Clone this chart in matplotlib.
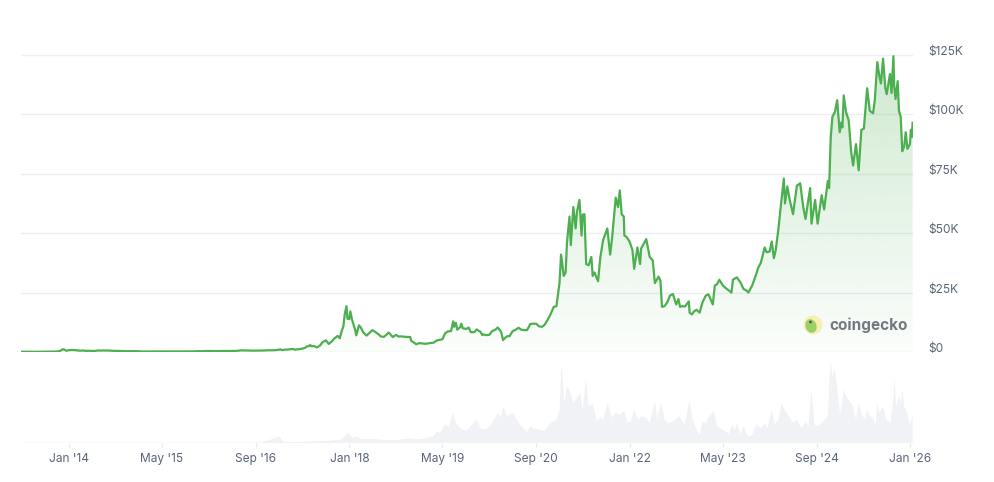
import numpy as np
import pandas as pd
import matplotlib
matplotlib.use("Agg")
import matplotlib.pyplot as plt
import matplotlib.dates as mdates
import matplotlib.transforms as mtransforms
from matplotlib.patches import Circle, Ellipse

# ---------------- data ----------------
price_dates = [
    "2013-04-28", "2013-05-15", "2013-06-01", "2013-06-15", "2013-07-01", "2013-07-15", "2013-08-01", "2013-08-15",
    "2013-09-01", "2013-09-15", "2013-10-01", "2013-10-15", "2013-11-01", "2013-11-15", "2013-11-30", "2013-12-05",
    "2013-12-18", "2013-12-31",
    "2014-01-15", "2014-02-01", "2014-02-15", "2014-03-01", "2014-03-15", "2014-04-01", "2014-04-15", "2014-05-01",
    "2014-05-15", "2014-06-01", "2014-06-15", "2014-07-01", "2014-07-15", "2014-08-01", "2014-08-15", "2014-09-01",
    "2014-09-15", "2014-10-01", "2014-10-15", "2014-11-01", "2014-11-15", "2014-12-01", "2014-12-15",
    "2015-01-01", "2015-01-15", "2015-02-01", "2015-02-15", "2015-03-01", "2015-03-15", "2015-04-01", "2015-04-15",
    "2015-05-01", "2015-05-15", "2015-06-01", "2015-06-15", "2015-07-01", "2015-07-15", "2015-08-01", "2015-08-15",
    "2015-09-01", "2015-09-15", "2015-10-01", "2015-10-15", "2015-11-01", "2015-11-05", "2015-11-15", "2015-12-01",
    "2015-12-15",
    "2016-01-01", "2016-01-15", "2016-02-01", "2016-02-15", "2016-03-01", "2016-03-15", "2016-04-01", "2016-04-15",
    "2016-05-01", "2016-05-15", "2016-06-01", "2016-06-15", "2016-07-01", "2016-07-15", "2016-08-01", "2016-08-15",
    "2016-09-01", "2016-09-15", "2016-10-01", "2016-10-15", "2016-11-01", "2016-11-15", "2016-12-01", "2016-12-15",
    "2017-01-01", "2017-01-05", "2017-01-15", "2017-02-01", "2017-02-15", "2017-03-01", "2017-03-15", "2017-03-25",
    "2017-04-01", "2017-04-15", "2017-05-01", "2017-05-15", "2017-05-25", "2017-06-01", "2017-06-12", "2017-06-15",
    "2017-07-01", "2017-07-16", "2017-08-01", "2017-08-15", "2017-09-01", "2017-09-15", "2017-10-01", "2017-10-15",
    "2017-11-01", "2017-11-12", "2017-11-20", "2017-12-01", "2017-12-08", "2017-12-17", "2017-12-22", "2017-12-31",
    "2018-01-06", "2018-01-15", "2018-02-01", "2018-02-06", "2018-02-20", "2018-03-01", "2018-03-15", "2018-04-01",
    "2018-04-15", "2018-05-01", "2018-05-15", "2018-06-01", "2018-06-15", "2018-07-01", "2018-07-25", "2018-08-01",
    "2018-08-15", "2018-09-01", "2018-09-15", "2018-10-01", "2018-10-15", "2018-11-01", "2018-11-14", "2018-11-20",
    "2018-12-01", "2018-12-15", "2018-12-31",
    "2019-01-15", "2019-02-01", "2019-02-15", "2019-03-01", "2019-03-15", "2019-04-03", "2019-04-15", "2019-05-01",
    "2019-05-15", "2019-05-30", "2019-06-15", "2019-06-26", "2019-07-01", "2019-07-10", "2019-07-17", "2019-08-01",
    "2019-08-07", "2019-08-15", "2019-09-01", "2019-09-15", "2019-09-25", "2019-10-01", "2019-10-15", "2019-10-26",
    "2019-11-01", "2019-11-15", "2019-11-25", "2019-12-01", "2019-12-15", "2019-12-31",
    "2020-01-15", "2020-02-01", "2020-02-13", "2020-03-01", "2020-03-12", "2020-03-15", "2020-04-01", "2020-04-15",
    "2020-05-01", "2020-05-15", "2020-06-01", "2020-06-15", "2020-07-01", "2020-07-15", "2020-08-01", "2020-08-15",
    "2020-09-01", "2020-09-15", "2020-10-01", "2020-10-15", "2020-11-01", "2020-11-15", "2020-12-01", "2020-12-15",
    "2020-12-31",
    "2021-01-08", "2021-01-15", "2021-01-22", "2021-02-01", "2021-02-08", "2021-02-21", "2021-02-28", "2021-03-13",
    "2021-03-25", "2021-04-01", "2021-04-14", "2021-04-25", "2021-05-01", "2021-05-10", "2021-05-19", "2021-06-01",
    "2021-06-15", "2021-06-22", "2021-07-01", "2021-07-20", "2021-08-01", "2021-08-15", "2021-09-06", "2021-09-21",
    "2021-10-01", "2021-10-20", "2021-11-01", "2021-11-10", "2021-11-20", "2021-12-01", "2021-12-04", "2021-12-15",
    "2021-12-31",
    "2022-01-15", "2022-01-24", "2022-02-10", "2022-02-24", "2022-03-01", "2022-03-28", "2022-04-15", "2022-05-01",
    "2022-05-12", "2022-05-31", "2022-06-10", "2022-06-18", "2022-07-01", "2022-07-15", "2022-07-30", "2022-08-14",
    "2022-08-31", "2022-09-12", "2022-09-20", "2022-10-01", "2022-10-15", "2022-11-05", "2022-11-09", "2022-11-21",
    "2022-12-01", "2022-12-15", "2022-12-31",
    "2023-01-15", "2023-02-01", "2023-02-15", "2023-03-10", "2023-03-20", "2023-04-01", "2023-04-13", "2023-05-01",
    "2023-05-15", "2023-06-15", "2023-06-23", "2023-07-13", "2023-08-01", "2023-08-17", "2023-09-01", "2023-09-11",
    "2023-10-01", "2023-10-23", "2023-11-01", "2023-11-15", "2023-12-05", "2023-12-15", "2023-12-31",
    "2024-01-11", "2024-01-22", "2024-02-01", "2024-02-15", "2024-02-28", "2024-03-14", "2024-03-20", "2024-04-01",
    "2024-04-15", "2024-05-01", "2024-05-21", "2024-06-07", "2024-06-24", "2024-07-05", "2024-07-29", "2024-08-05",
    "2024-08-24", "2024-09-06", "2024-09-27", "2024-10-10", "2024-10-29", "2024-11-05", "2024-11-13", "2024-11-22",
    "2024-12-05", "2024-12-17", "2024-12-30",
    "2025-01-07", "2025-01-13", "2025-01-20", "2025-02-01", "2025-02-15", "2025-02-28", "2025-03-10", "2025-03-25",
    "2025-04-08", "2025-04-22", "2025-05-05", "2025-05-22", "2025-06-05", "2025-06-22", "2025-07-01", "2025-07-14",
    "2025-07-25", "2025-08-02", "2025-08-13", "2025-08-25", "2025-09-01", "2025-09-18", "2025-09-26", "2025-10-06",
    "2025-10-10", "2025-10-17", "2025-10-28", "2025-11-04", "2025-11-13", "2025-11-21", "2025-12-01", "2025-12-09",
    "2025-12-18", "2025-12-31", "2026-01-05", "2026-01-10", "2026-01-14",
]
price_values = [
    135, 115, 129, 100, 90, 98, 105, 100,
    140, 130, 125, 150, 205, 430, 1120, 1150,
    520, 750,
    850, 800, 650, 560, 630, 470, 520, 450,
    450, 630, 600, 640, 620, 590, 500, 480,
    470, 385, 395, 325, 390, 380, 350,
    315, 210, 225, 235, 255, 285, 245, 220,
    235, 237, 225, 235, 258, 285, 280, 260,
    228, 230, 237, 255, 315, 400, 330, 378,
    440,
    433, 388, 370, 400, 433, 415, 417, 430,
    450, 455, 535, 690, 675, 665, 605, 570,
    575, 608, 615, 640, 730, 715, 755, 780,
    1000, 1130, 820, 985, 1010, 1190, 1250, 940,
    1080, 1180, 1420, 1720, 2400, 2400, 2950, 2450,
    2480, 1930, 2720, 4200, 4900, 3400, 4400, 5700,
    6750, 5800, 8200, 10900, 16000, 19300, 14000, 13800,
    17100, 13600, 9100, 7000, 11200, 10400, 8200, 6900,
    8000, 9200, 8500, 7500, 6500, 6400, 8200, 7600,
    6300, 7200, 6500, 6600, 6400, 6350, 6300, 4600,
    4100, 3250, 3750,
    3600, 3450, 3600, 3800, 3900, 4900, 5100, 5350,
    7900, 8700, 8800, 12900, 10600, 12300, 9400, 10400,
    11900, 10000, 9700, 10300, 8400, 8300, 8400, 9500,
    9200, 8500, 7100, 7400, 7100, 7200,
    8800, 9400, 10300, 8600, 5000, 5400, 6600, 6700,
    8800, 9300, 10200, 9400, 9200, 9200, 11800, 11900,
    11900, 10800, 10600, 11500, 13800, 16000, 19000, 19300,
    29000,
    41000, 36800, 32000, 33500, 46000, 57000, 45000, 61000,
    52000, 59000, 64000, 49000, 57800, 58000, 37000, 36500,
    40000, 32000, 33500, 29800, 40000, 47000, 52000, 41000,
    48000, 65000, 61000, 68000, 58000, 57000, 49000, 48500,
    46500,
    43000, 35000, 44000, 37000, 43500, 47500, 40000, 38500,
    29000, 31700, 30000, 19000, 19300, 20800, 23800, 24400,
    20000, 22300, 19000, 19300, 19100, 21300, 16500, 15800,
    17000, 17800, 16550,
    20900, 23700, 24300, 20000, 28000, 28500, 30400, 28000,
    27000, 25000, 30500, 31400, 29300, 26500, 25900, 25000,
    28000, 33000, 35400, 37500, 44000, 42000, 42300,
    46500, 39500, 43000, 52000, 62000, 73000, 62500, 69700,
    63500, 58000, 70000, 71000, 60500, 56000, 69000, 54000,
    64000, 54000, 66000, 60000, 72000, 69000, 90000, 99000,
    101000, 106000, 92500,
    96500, 94500, 108000, 101000, 97500, 84000, 78500, 87500,
    76500, 93500, 94000, 111000, 101500, 100500, 106000, 122000,
    116000, 113000, 123500, 111000, 108500, 117000, 109000, 124500,
    112000, 106500, 114000, 101500, 99000, 84500, 86500, 92500,
    85500, 87500, 93500, 90500, 96500,
]

volume_dates = [
    "2013-04-28", "2013-11-30", "2014-06-01", "2015-06-01", "2016-06-15", "2016-10-01", "2016-11-15", "2016-12-10",
    "2017-01-05", "2017-01-20", "2017-03-01", "2017-06-01", "2017-09-01", "2017-11-15", "2017-12-10", "2017-12-22",
    "2018-01-05", "2018-01-20", "2018-02-06", "2018-03-01", "2018-05-01", "2018-07-01", "2018-09-01", "2018-11-20",
    "2018-12-15", "2019-01-15", "2019-02-15", "2019-03-15", "2019-04-03", "2019-04-20", "2019-05-15", "2019-06-01",
    "2019-06-26", "2019-07-10", "2019-08-01", "2019-09-01", "2019-09-25", "2019-10-26", "2019-11-15", "2019-12-15",
    "2020-01-15", "2020-02-13", "2020-03-01", "2020-03-13", "2020-04-01", "2020-05-01", "2020-05-15", "2020-06-15",
    "2020-07-15", "2020-08-01", "2020-08-15", "2020-09-15", "2020-10-15", "2020-11-15", "2020-12-15", "2020-12-31",
    "2021-01-11", "2021-01-25", "2021-02-08", "2021-02-22", "2021-03-15", "2021-04-18", "2021-05-01", "2021-05-19",
    "2021-06-01", "2021-06-22", "2021-07-15", "2021-08-01", "2021-08-15", "2021-09-07", "2021-10-01", "2021-10-20",
    "2021-11-10", "2021-12-04", "2021-12-20", "2022-01-05", "2022-01-24", "2022-02-15", "2022-03-01", "2022-03-28",
    "2022-04-15", "2022-05-12", "2022-05-25", "2022-06-13", "2022-06-18", "2022-07-01", "2022-07-15", "2022-08-15",
    "2022-09-15", "2022-10-01", "2022-10-15", "2022-11-09", "2022-11-25", "2022-12-15", "2023-01-01", "2023-01-15",
    "2023-02-01", "2023-02-15", "2023-03-13", "2023-03-20", "2023-04-01", "2023-04-15", "2023-05-01", "2023-06-01",
    "2023-06-20", "2023-07-01", "2023-07-14", "2023-08-01", "2023-08-17", "2023-09-01", "2023-09-15", "2023-10-01",
    "2023-10-23", "2023-11-15", "2023-12-05", "2023-12-20", "2024-01-11", "2024-01-25", "2024-02-15", "2024-02-28",
    "2024-03-05", "2024-03-20", "2024-04-15", "2024-05-01", "2024-05-20", "2024-06-15", "2024-07-05", "2024-07-20",
    "2024-08-05", "2024-08-20", "2024-09-07", "2024-09-25", "2024-10-15", "2024-10-30", "2024-11-06", "2024-11-13",
    "2024-11-22", "2024-12-05", "2024-12-20", "2025-01-01", "2025-01-20", "2025-02-03", "2025-02-25", "2025-03-10",
    "2025-03-25", "2025-04-07", "2025-04-22", "2025-05-10", "2025-05-22", "2025-06-05", "2025-06-22", "2025-07-05",
    "2025-07-14", "2025-07-25", "2025-08-14", "2025-08-25", "2025-09-01", "2025-09-20", "2025-10-06", "2025-10-11",
    "2025-10-20", "2025-11-04", "2025-11-14", "2025-11-21", "2025-12-01", "2025-12-15", "2026-01-01", "2026-01-14",
]
volume_values = [  # billions USD
    0.1, 0.3, 0.1, 0.05, 0.2, 1.0, 5, 8,
    9, 2, 1, 2, 3, 5, 10, 16,
    12, 8, 10, 6, 6, 4.5, 4.5, 7,
    5.5, 6, 8, 10, 18, 15, 28, 24,
    45, 30, 22, 18, 25, 35, 22, 20,
    30, 45, 38, 55, 40, 45, 38, 25,
    16, 25, 22, 20, 18, 30, 35, 48,
    120, 60, 85, 78, 60, 75, 50, 95,
    55, 60, 32, 40, 35, 60, 38, 45,
    42, 48, 30, 32, 50, 35, 40, 38,
    30, 62, 35, 60, 55, 35, 30, 32,
    40, 33, 28, 65, 35, 20, 12, 32,
    30, 38, 48, 42, 25, 22, 20, 14,
    28, 18, 30, 12, 25, 14, 10, 12,
    28, 22, 30, 22, 50, 28, 35, 55,
    60, 48, 38, 30, 35, 22, 32, 25,
    80, 28, 25, 30, 35, 42, 90, 125,
    100, 110, 75, 42, 80, 70, 60, 55,
    35, 60, 45, 35, 50, 40, 38, 25,
    60, 45, 55, 40, 35, 30, 65, 98,
    55, 70, 60, 82, 55, 45, 28, 42,
]

x_tick_dates = ["2014-01-01", "2015-05-01", "2016-09-01", "2018-01-01", "2019-05-01",
                "2020-09-01", "2022-01-01", "2023-05-01", "2024-09-01", "2026-01-01"]
x_tick_labels = ["Jan '14", "May '15", "Sep '16", "Jan '18", "May '19",
                 "Sep '20", "Jan '22", "May '23", "Sep '24", "Jan '26"]
y_tick_values = [0, 25000, 50000, 75000, 100000, 125000]
y_tick_labels = ["$0", "$25K", "$50K", "$75K", "$100K", "$125K"]

# ---------------- styling ----------------
plt.rcParams['font.family'] = ['Inter', 'DejaVu Sans']
LINE = '#4caf50'
GRID = '#eceef2'
TXT = '#5b6579'
VOL = '#f0f2f5'

W, H = 994, 482
fig = plt.figure(figsize=(W / 100, H / 100), dpi=100)
fig.patch.set_facecolor('white')

def fx(px):
    return px / W

def fy(py):
    return 1 - py / H

left_px, right_px = 21, 913
price_top_px, price_bot_px = 45, 352
vol_top_px, vol_bot_px = 352, 443

ax = fig.add_axes([fx(left_px), fy(price_bot_px), fx(right_px - left_px), (price_bot_px - price_top_px) / H])
axv = fig.add_axes([fx(left_px), fy(vol_bot_px), fx(right_px - left_px), (vol_bot_px - vol_top_px) / H])

px_per_k = (352 - 55) / 125000.0
ymax = (price_bot_px - price_top_px) / px_per_k

xd = mdates.date2num(pd.to_datetime(price_dates))
yv = np.array(price_values, dtype=float)
x0 = mdates.date2num(pd.Timestamp("2013-04-26"))
x1 = mdates.date2num(pd.Timestamp("2026-01-16"))

# gridlines
for v in y_tick_values:
    ax.axhline(v, color=GRID, lw=1.0, zorder=0.5)

# gradient fill
poly = ax.fill_between(xd, yv, 0, facecolor='none', edgecolor='none')
clip = poly.get_paths()[0]
rgb = matplotlib.colors.to_rgb(LINE)
grad = np.zeros((256, 1, 4))
grad[:, 0, :3] = rgb
grad[:, 0, 3] = np.linspace(0.02, 0.28, 256)
im = ax.imshow(grad, extent=[x0, x1, 0, ymax], origin='lower', aspect='auto', zorder=1,
               interpolation='bilinear')
im.set_clip_path(clip, transform=ax.transData)

ax.plot(xd, yv, color=LINE, lw=1.6, zorder=3, solid_joinstyle='round')

ax.set_xlim(x0, x1)
ax.set_ylim(0, ymax)
for s in ax.spines.values():
    s.set_visible(False)
ax.set_xticks([])
ax.yaxis.tick_right()
ax.set_yticks(y_tick_values)
ax.set_yticklabels(y_tick_labels)
ax.tick_params(axis='y', length=0, pad=11, labelsize=8.6, labelcolor=TXT)
up = mtransforms.ScaledTranslation(0, 0.045, fig.dpi_scale_trans)
for lab in ax.get_yticklabels():
    lab.set_transform(lab.get_transform() + up)
ax.set_facecolor('none')

# volume
vx = mdates.date2num(pd.to_datetime(volume_dates))
vy = np.array(volume_values, dtype=float)
axv.fill_between(vx, vy, 0, facecolor=VOL, edgecolor='none', zorder=1)
axv.set_xlim(x0, x1)
axv.set_ylim(0, (vol_bot_px - vol_top_px) * 1.5)
for s in axv.spines.values():
    s.set_visible(False)
axv.axhline(0, color=GRID, lw=1.0, zorder=2)
axv.set_yticks([])
axv.set_xticks(mdates.date2num(pd.to_datetime(x_tick_dates)))
axv.set_xticklabels(x_tick_labels)
axv.tick_params(axis='x', length=3, width=0.8, color='#e6e8ec', pad=4, labelsize=8.6, labelcolor=TXT)
axv.set_facecolor('none')

# coingecko watermark
lax = fig.add_axes([0, 0, 1, 1], facecolor='none')
lax.set_xlim(0, W)
lax.set_ylim(H, 0)
lax.axis('off')
lax.add_patch(Circle((813, 325), 9.5, facecolor='#f7efb4', edgecolor='none'))
lax.add_patch(Ellipse((811, 326), 11, 14, angle=-20, facecolor='#9ccf6a', edgecolor='none'))
lax.add_patch(Circle((810.5, 322), 1.3, facecolor='#4a4a4a', edgecolor='none'))
lax.text(829, 325, "coingecko", fontsize=11, fontweight='bold', color='#74787f',
         ha='left', va='center')

fig.savefig("out.png", dpi=100, facecolor='white')
